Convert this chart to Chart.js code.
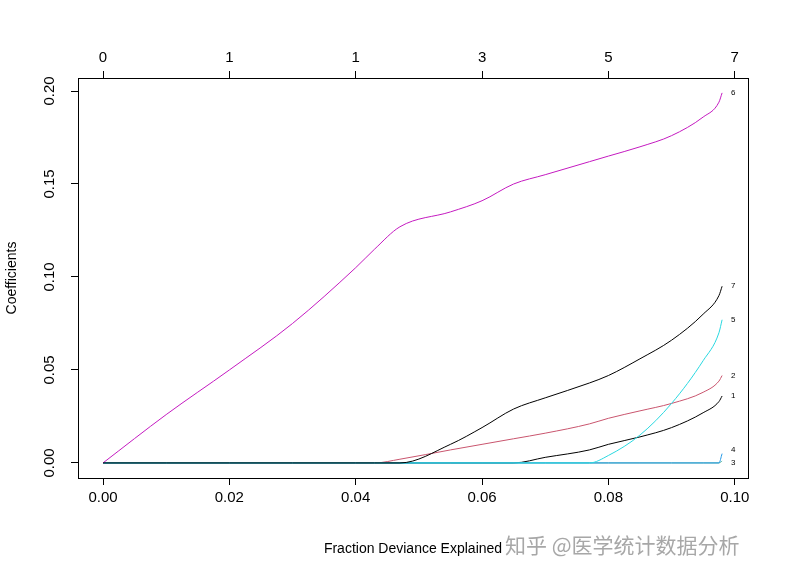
<!DOCTYPE html>
<html><head><meta charset="utf-8">
<script src="https://cdn.jsdelivr.net/npm/chart.js@4"></script>
<style>body{margin:0;background:#fff}#wrap{width:787px;height:576px;position:relative}</style>
</head><body><div id="wrap"><canvas id="c" width="787" height="576"></canvas></div>
<script>
// fraction deviance explained (knots)
const fracDev = [0, 0.01, 0.02, 0.03, 0.04, 0.043, 0.047, 0.055, 0.06, 0.065, 0.07, 0.077, 0.08, 0.085, 0.09, 0.095, 0.0975, 0.098];
const coef1 = [0,0,0,0,0,0,0,0,0,0,0.003,0.007,0.010,0.014,0.019,0.027,0.033,0.036];
const coef2 = [0,0,0,0,0,0,0.002,0.007,0.010,0.013,0.016,0.021,0.024,0.028,0.032,0.038,0.044,0.047];
const coef3 = [0,0,0,0,0,0,0,0,0,0,0,0,0,0,0,0,0,0.001];
const coef4 = [0,0,0,0,0,0,0,0,0,0,0,0,0,0,0,0,0,0.005];
const coef5 = [0,0,0,0,0,0,0,0,0,0,0,0,0.004,0.015,0.032,0.055,0.070,0.077];
const coef6 = [0,0.026,0.050,0.075,0.105,0.115,0.127,0.135,0.141,0.150,0.155,0.162,0.165,0.170,0.176,0.186,0.194,0.199];
const coef7 = [0,0,0,0,0,0,0,0.010,0.019,0.029,0.035,0.043,0.047,0.056,0.066,0.080,0.090,0.095];
const xTicks = [0, 0.02, 0.04, 0.06, 0.08, 0.10];
const dfTicks = ['0', '1', '1', '3', '5', '7'];
const yTicks = [0, 0.05, 0.10, 0.15, 0.20];

const series = [
  { lab: '1', v: coef1, col: '#000000' },
  { lab: '2', v: coef2, col: '#C9556E' },
  { lab: '3', v: coef3, col: '#4FB09A' },
  { lab: '4', v: coef4, col: '#2297E6' },
  { lab: '5', v: coef5, col: '#28D8E0' },
  { lab: '6', v: coef6, col: '#C41AC0' },
  { lab: '7', v: coef7, col: '#000000' }
];

const font = 'Liberation Sans, Arial, sans-serif';

const rPlot = {
  id: 'rPlot',
  afterDraw(chart) {
    const { ctx, chartArea: a, scales } = chart;
    ctx.save();
    ctx.strokeStyle = '#000'; ctx.lineWidth = 1;
    ctx.strokeRect(a.left + 0.5, a.top + 0.5, a.right - a.left, a.bottom - a.top);
    // rotated y tick labels, as R draws them
    ctx.fillStyle = '#000'; ctx.font = '15px ' + font;
    ctx.textAlign = 'center'; ctx.textBaseline = 'bottom';
    yTicks.forEach(t => {
      const y = scales.y.getPixelForValue(t);
      ctx.save(); ctx.translate(57, y); ctx.rotate(-Math.PI / 2);
      ctx.fillText(t.toFixed(2), 0, 0); ctx.restore();
    });
    // end labels
    ctx.font = '8px ' + font; ctx.textAlign = 'left'; ctx.textBaseline = 'middle';
    const last = fracDev.length - 1;
    const off = { '3': 2, '4': -4 };
    series.forEach(s => {
      ctx.fillText(s.lab, scales.x.getPixelForValue(fracDev[last]) + 9,
        scales.y.getPixelForValue(s.v[last]) + (off[s.lab] || 0));
    });
    // watermark
    ctx.font = '21px "Noto Sans CJK SC", sans-serif'; ctx.fillStyle = 'rgba(130,130,130,0.7)';
    ctx.textAlign = 'left'; ctx.textBaseline = 'middle';
    ctx.fillText('知乎 @医学统计数据分析', 505, 545);
    ctx.restore();
  }
};

new Chart(document.getElementById('c'), {
  type: 'line',
  data: {
    datasets: series.map((s, i) => ({
      label: s.lab,
      data: fracDev.map((x, j) => ({ x: x, y: s.v[j] })),
      borderColor: s.col, borderWidth: 1, pointRadius: 0, cubicInterpolationMode: 'monotone',
      order: 7 - i
    }))
  },
  options: {
    responsive: false, animation: false, devicePixelRatio: 1,
    layout: { padding: { right: 39 } },
    plugins: { legend: { display: false }, tooltip: { enabled: false } },
    scales: {
      x: {
        type: 'linear', position: 'bottom', min: -0.00396, max: 0.1021,
        afterBuildTicks: ax => { ax.ticks = xTicks.map(v => ({ value: v })); },
        afterFit: ax => { ax.height = 98; },
        grid: { drawOnChartArea: false, tickLength: 7, color: '#000' },
        border: { display: false },
        ticks: { color: '#000', font: { size: 15, family: font }, padding: 4, maxRotation: 0,
          callback: v => v.toFixed(2) },
        title: { display: true, text: 'Fraction Deviance Explained', color: '#000',
          font: { size: 14, family: font }, padding: { top: 8, bottom: 18 } }
      },
      x2: {
        type: 'linear', position: 'top', min: -0.00396, max: 0.1021,
        afterBuildTicks: ax => { ax.ticks = xTicks.map(v => ({ value: v })); },
        afterFit: ax => { ax.height = 78; },
        grid: { drawOnChartArea: false, tickLength: 7, color: '#000' },
        border: { display: false },
        ticks: { color: '#000', font: { size: 15, family: font }, padding: 4, maxRotation: 0,
          callback: v => dfTicks[xTicks.findIndex(t => Math.abs(t - v) < 1e-9)] }
      },
      y: {
        type: 'linear', min: -0.0081, max: 0.207,
        afterBuildTicks: ax => { ax.ticks = yTicks.map(v => ({ value: v })); },
        afterFit: ax => { ax.width = 78; },
        grid: { drawOnChartArea: false, tickLength: 7, color: '#000' },
        border: { display: false },
        ticks: { color: 'rgba(0,0,0,0)', font: { size: 15, family: font } },
        title: { display: true, text: 'Coefficients', color: '#000',
          font: { size: 14, family: font }, padding: { bottom: 0 } }
      }
    }
  },
  plugins: [rPlot]
});
</script></body></html>
